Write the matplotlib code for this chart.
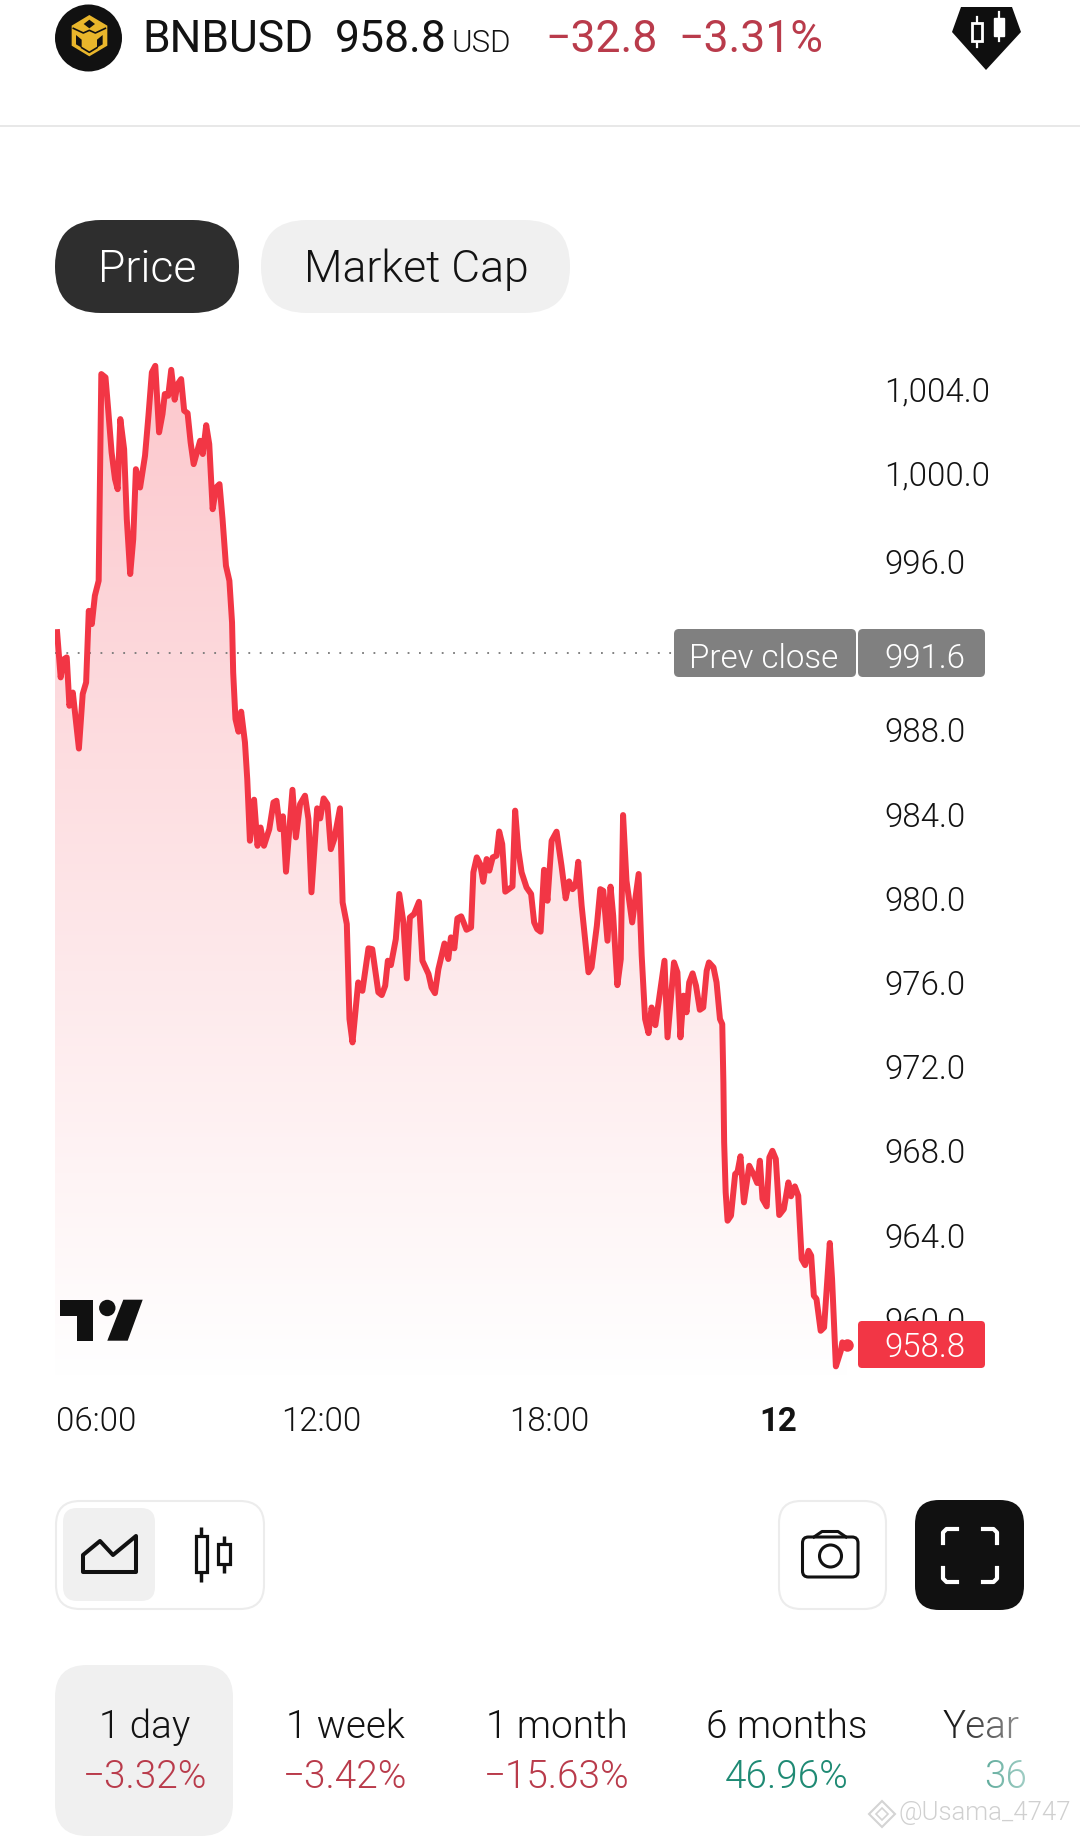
import numpy as np
import matplotlib
matplotlib.use("Agg")
import matplotlib.pyplot as plt
from matplotlib.patches import FancyBboxPatch, Circle, Polygon, Rectangle
from matplotlib.transforms import ScaledTranslation

plt.rcParams['font.family'] = ['Roboto', 'DejaVu Sans']

# ---------- data ----------
symbol = "BNBUSD"
last_price = 958.8
prev_close_line = 991.74
prev_close_label = "991.6"
change_abs = "\u221232.8"
change_pct = "\u22123.31%"

hours = [4.97,5.07,5.16,5.23,5.30,5.39,5.55,5.65,5.74,5.81,5.89,5.97,6.07,6.14,6.25,6.32,6.41,6.50,6.57,6.64,
         6.74,6.81,6.90,6.98,7.05,7.16,7.29,7.38,7.47,7.56,7.66,7.75,7.81,7.90,7.98,8.07,8.15,8.24,8.32,8.41,
         8.49,8.57,8.74,8.81,8.90,8.98,9.07,9.16,9.25,9.33,9.42,9.51,9.58,9.61,9.67,9.75,9.82,9.92,9.98,
         10.05,10.16,10.25,10.33,10.42,10.56,10.67,10.75,10.84,10.92,11.00,11.17,11.26,11.37,11.50,11.59,11.67,
         11.82,11.90,11.99,12.09,12.18,12.27,12.42,12.49,12.60,12.67,12.75,12.90,13.01,13.17,13.27,13.43,13.52,
         13.61,13.68,13.76,13.89,13.98,
         14.09,14.18,14.26,14.37,14.50,14.59,14.75,14.83,14.92,15.01,15.17,15.27,15.34,15.43,15.51,15.61,15.75,
         15.87,15.93,16.02,16.11,16.19,16.28,16.35,16.44,16.54,16.61,16.69,16.77,16.96,17.03,17.11,17.20,17.33,
         17.45,17.53,17.61,17.70,17.79,17.88,17.99,18.12,18.25,18.36,18.45,18.54,18.62,18.69,18.78,18.87,18.96,
         19.04,19.18,19.27,19.35,19.46,19.54,19.61,19.72,19.81,19.87,19.96,20.11,20.28,20.36,20.45,20.54,20.62,
         20.72,20.96,21.04,21.21,21.30,21.38,21.46,21.54,21.61,21.70,21.79,21.89,21.98,22.07,22.13,22.25,22.33,
         22.42,22.48,
         22.51,22.53,22.57,22.62,22.71,22.82,22.88,22.96,23.05,23.19,23.32,23.40,23.47,23.54,23.65,23.72,23.80,
         23.89,23.98,24.10,24.22,24.29,24.39,24.48,24.57,24.66,24.75,24.82,24.89,24.96,25.07,25.16,25.31,25.37,
         25.47,25.60,25.64,25.75]
prices = [992.86,990.57,991.44,991.52,989.22,989.85,987.19,989.78,990.33,993.73,993.10,994.45,995.16,1004.98,1004.82,1003.31,1001.26,999.99,999.51,1002.84,
          1001.41,998.09,995.48,997.14,1000.46,999.59,1001.10,1003.00,1005.06,1005.37,1002.21,1003.08,1004.03,1003.95,1005.18,1003.76,1004.50,1004.74,1003.24,1003.12,
          1001.73,1000.70,1001.81,1001.18,1002.55,1001.65,998.56,999.59,999.75,998.09,995.87,995.16,993.18,990.80,988.59,987.99,988.94,987.48,985.74,
          982.81,984.76,982.57,983.44,982.57,983.36,984.63,984.71,983.36,983.97,981.34,985.23,982.97,984.55,984.95,983.84,980.36,
          984.35,983.87,984.82,984.55,982.41,982.89,984.35,979.88,978.85,974.34,973.23,976.08,975.68,977.70,977.66,975.61,975.48,
          975.92,977.11,976.90,978.14,980.28,
          978.93,976.27,979.17,979.33,979.91,977.11,976.48,975.84,975.57,976.71,977.93,977.19,978.22,977.70,979.12,979.22,978.58,
          978.69,981.31,982.02,981.70,980.86,981.94,981.39,982.02,982.10,983.25,982.65,980.39,980.64,984.24,982.41,981.31,980.59,
          980.28,978.93,978.61,978.49,981.43,979.96,982.81,983.24,981.62,980.07,980.88,980.51,980.67,981.81,979.72,978.14,976.56,
          976.79,978.77,980.51,980.43,978.06,980.63,979.25,975.95,977.19,984.03,980.91,978.93,981.23,977.35,974.34,973.67,974.89,
          974.05,977.11,973.47,977.03,976.56,973.47,975.45,974.66,976.08,976.51,975.92,974.78,974.89,976.63,977.03,976.79,976.08,
          974.34,974.10,
          971.33,968.48,966.11,964.76,965.00,966.98,967.06,967.82,965.63,967.37,966.90,966.55,967.61,965.79,965.44,967.77,968.08,
          967.69,965.03,965.31,966.58,965.92,966.39,965.95,962.94,962.65,963.33,963.10,961.20,961.04,959.53,959.69,963.70,961.99,
          957.84,958.58,958.98,958.85]

price_ticks = [1004, 1000, 996, 988, 984, 980, 976, 972, 968, 964, 960]
price_tick_labels = ["1,004.0","1,000.0","996.0","988.0","984.0","980.0","976.0","972.0","968.0","964.0","960.0"]
time_ticks = [6, 12, 18, 24]
time_tick_labels = ["06:00", "12:00", "18:00", "12"]

period_names = ["1 day", "1 week", "1 month", "6 months"]
period_changes = ["\u22123.32%", "\u22123.42%", "\u221215.63%", "46.96%"]

# ---------- style ----------
RED = "#f23645"
TXT_RED = "#b93b4b"
TXT_GREEN = "#1f8a74"
INK = "#131313"
PANEL = "#f0f0f0"
W, H = 1080, 1840
WEIGHT = 300
AXIS_FS = 23.8
HEAD_FS = 32

fig = plt.figure(figsize=(W/100, H/100), dpi=100, facecolor="white")

# chart axes (pixel rectangle x 55-860, y 350-1380)
ax = fig.add_axes([55/W, 1-1380/H, (860-55)/W, (1380-350)/H], zorder=1)
ax.set_xlim(4.921, 26.105)
ax.set_ylim(957.24, 1006.17)
ax.patch.set_alpha(0)
for s in ax.spines.values():
    s.set_visible(False)

h = np.array(hours); p = np.array(prices)
floor = ax.get_ylim()[0]
xl = ax.get_xlim(); yl = ax.get_ylim()
poly = ax.fill_between(np.r_[xl[0], h], np.r_[p[0], p], floor, color="none", lw=0)
grad = np.ones((256, 1, 4))
top_c = np.array([252, 200, 205])/255
bot_c = np.array([255, 255, 255])/255
for i, t in enumerate(np.linspace(0, 1, 256)):
    grad[i, 0, :3] = top_c*(1-t) + bot_c*t
im = ax.imshow(grad, extent=[xl[0], xl[1], floor, 1005.37], origin="upper", aspect="auto", zorder=1)
im.set_clip_path(poly.get_paths()[0], transform=ax.transData)
ax.set_xlim(xl); ax.set_ylim(yl)

ax.plot(xl, [prev_close_line]*2, color="#777777", lw=1.3, ls=(0, (1, 5.3)), zorder=2)
ax.plot(h, p, color=RED, lw=4.3, solid_joinstyle="round", solid_capstyle="butt", zorder=3)
ax.plot(h[-1], p[-1], "o", color=RED, ms=9, mew=0, zorder=4)

ax.yaxis.tick_right()
ax.set_yticks(price_ticks)
ax.set_yticklabels(price_tick_labels)
ax.tick_params(axis="y", length=0, pad=17.3, labelsize=AXIS_FS, labelcolor=INK)
for lab in ax.get_yticklabels():
    lab.set_fontweight(WEIGHT); lab.set_ha("left")
    dy = 6.5 if lab.get_text().startswith("1,") else 2.5
    lab.set_transform(lab.get_transform() + ScaledTranslation(0, dy/100, fig.dpi_scale_trans))
ax.set_xticks(time_ticks)
ax.set_xticklabels(time_tick_labels)
ax.tick_params(axis="x", length=0, pad=19, labelsize=AXIS_FS, labelcolor=INK)
for lab, dx in zip(ax.get_xticklabels(), [0, -3, -3, -2]):
    lab.set_fontweight("bold" if lab.get_text() == "12" else WEIGHT)
    lab.set_transform(lab.get_transform() + ScaledTranslation(dx/100, 0, fig.dpi_scale_trans))

# overlay in pixel coordinates
ui = fig.add_axes([0, 0, 1, 1], zorder=2)
ui.set_xlim(0, W); ui.set_ylim(H, 0); ui.axis("off"); ui.patch.set_alpha(0)

def rbox(x0, y0, x1, y1, r, fc, ec="none", lw=0, z=2):
    ui.add_patch(FancyBboxPatch((x0, y0), x1-x0, y1-y0, boxstyle=f"round,pad=0,rounding_size={r}",
                                fc=fc, ec=ec, lw=lw, zorder=z))

def txt(x, y, s, size, color=INK, ha="left", weight=WEIGHT, z=5):
    return ui.text(x, y, s, fontsize=size, color=color, ha=ha, va="baseline", fontweight=weight, zorder=z)

# header
ui.add_patch(Circle((88.5, 39), 33.5, fc="#111111", ec="none"))
def lg(zx, zy):
    return (50+zx/3, zy/3)
ui.add_patch(Polygon([lg(*q) for q in [(118,48),(172,80),(172,140),(118,172),(65,140),(65,80)]], fc="#e9b62b", ec="none", zorder=3))
for q in [[(118,62),(135,75),(118,88),(101,75)],
          [(78,108),(95,122),(95,146),(78,136)],
          [(158,108),(141,122),(141,146),(158,136)]]:
    ui.add_patch(Polygon([lg(*a) for a in q], fc="#111111", ec="none", zorder=4))
ui.plot(*zip(*[lg(*a) for a in [(70,88),(100,102),(118,94),(136,102),(166,88)]]), color="#111111", lw=1.2, zorder=4)
ui.plot(*zip(*[lg(*a) for a in [(95,146),(118,160),(141,146)]]), color="#111111", lw=1.2, zorder=4)

txt(142, 52, symbol, HEAD_FS, weight="normal")
txt(334.5, 52, f"{last_price}", HEAD_FS, weight="normal")
txt(452, 52, "USD", 22.5)
txt(545, 52, change_abs, HEAD_FS, color=TXT_RED, weight="normal")
txt(678, 52, change_pct, HEAD_FS, color=TXT_RED, weight="normal")

ui.add_patch(Polygon([(961,8),(1012,8),(1021,33),(986,71),(952,33)], fc="#0f0f0f", ec="none"))
ui.plot([977,977],[18,48], color="white", lw=1.6, zorder=3)
ui.add_patch(Rectangle((972,24),10,18, fc="#0f0f0f", ec="white", lw=2, zorder=4))
ui.plot([999,999],[13,42], color="white", lw=1.6, zorder=3)
ui.add_patch(Rectangle((994,19),10,18, fc="white", ec="white", lw=1, zorder=4))

ui.add_patch(Rectangle((0,126), W, 2, fc="#e8e8e8", ec="none"))

rbox(55,221,239,314,46,"#2e2e2e")
txt(147,282,"Price",32,color="white",ha="center")
rbox(261,221,570,314,46,PANEL)
txt(416,282,"Market Cap",32,ha="center")

# axis-side labels
rbox(674,630,856,678,5,"#808080",z=3)
rbox(858,630,985,678,5,"#808080",z=3)
txt(764,668,"Prev close",AXIS_FS,color="white",ha="center")
txt(884,668,prev_close_label,AXIS_FS,color="white")
rbox(858,1322,985,1369,4,RED,z=3)
txt(884,1357,f"{last_price}",AXIS_FS,color="white")

# TradingView mark
ui.add_patch(Polygon([(60,1300.7),(93.3,1300.7),(93.3,1341.7),(77.3,1341.7),(77.3,1316.7),(60,1316.7)], fc="#111111", ec="none", zorder=4))
ui.add_patch(Circle((107.3,1309), 8.2, fc="#111111", ec="none", zorder=4))
ui.add_patch(Polygon([(123.3,1300.7),(142.7,1300.7),(127.7,1341.7),(107.3,1341.7)], fc="#111111", ec="none", zorder=4))

# toolbar
rbox(56,1502,264,1610,24,"white",ec="#ececec",lw=1.5)
rbox(63,1509,155,1602,14,PANEL,z=3)
ui.add_patch(Polygon([(83,1573),(83,1556),(100,1542),(113,1556),(136,1537),(136,1573)], fc="none", ec="#111111", lw=2.9, joinstyle="round", zorder=4))
for x, ya, yb, y0, y1, w in [(201,1528,1583,1537,1573,11),(224,1537,1574,1545,1565,12)]:
    ui.plot([x,x],[ya,yb],color="#111111",lw=2.5,zorder=4,solid_capstyle="butt")
    ui.add_patch(Rectangle((x-w/2,y0),w,y1-y0,fc="white",ec="#111111",lw=2.3,zorder=5))
rbox(779,1502,886,1610,22,"white",ec="#ececec",lw=1.5)
rbox(802.5,1538,858,1578,6,"none",ec="#111111",lw=2.2,z=4)
ui.plot([814,822,838,846],[1538,1532.5,1532.5,1538],color="#111111",lw=2.2,zorder=4)
ui.add_patch(Circle((830.5,1557),11,fc="none",ec="#111111",lw=2.2,zorder=4))
rbox(915,1501,1024,1611,24,"#111111")
a, b, c, d = 943, 997, 1530, 1583
for (x0,x1,y0,y1) in [(a,a+14,c,c+14),(b,b-14,c,c+14),(a,a+14,d,d-14),(b,b-14,d,d-14)]:
    ui.plot([x1,x0+(x1-x0)*0.25,x0,x0],[y0,y0,y0+(y1-y0)*0.25,y1],color="white",lw=3,zorder=4,solid_joinstyle="round")

# period row
rbox(55,1666,233,1837,32,PANEL)
for name, chg, xc in zip(period_names, period_changes, [145,345,557,787]):
    txt(xc,1738,name,27.8,ha="center")
    txt(xc,1788,chg,27.8,color=TXT_GREEN if not chg.startswith("\u2212") else TXT_RED,ha="center")
txt(943,1738,"Year",27.8)
txt(984,1788,"36",27.8,color=TXT_GREEN)
fade = np.ones((1,256,4)); fade[0,:,3] = np.linspace(0,0.65,256)
ui.imshow(fade, extent=[945,1035,1800,1695], aspect="auto", zorder=6)
ui.add_patch(Rectangle((1028,1695),52,105,fc="white",ec="none",zorder=6))
ui.set_xlim(0,W); ui.set_ylim(H,0)

# watermark
txt(899,1820,"@Usama_4747",18.5,color="#d0d0d0",z=7)
ui.add_patch(Polygon([(882,1802),(895,1815),(882,1828),(869,1815)],fc="none",ec="#d4d4d4",lw=1.5,zorder=7))
ui.add_patch(Polygon([(882,1809),(888,1815),(882,1821),(876,1815)],fc="none",ec="#d4d4d4",lw=1.2,zorder=7))

fig.savefig("out.png", dpi=100, facecolor="white")
